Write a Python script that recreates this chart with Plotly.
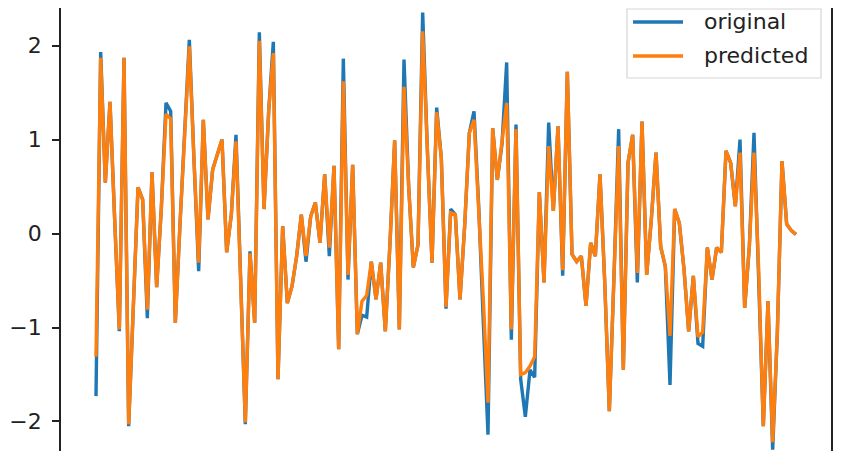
import plotly.graph_objects as go

# values, one per time step
predicted = [
    -1.31, 1.87, 0.54, 1.40, 0.15, -1.02, 1.87, -2.03, -0.78, 0.49,
    0.36, -0.81, 0.65, -0.57, 0.27, 1.27, 1.22, -0.95, 0.10, 1.00,
    1.99, 0.78, -0.31, 1.21, 0.15, 0.68, 0.85, 1.00, -0.20, 0.20,
    0.98, -0.47, -2.01, -0.21, -0.95, 2.05, 0.26, 1.30, 1.92, -1.55,
    0.08, -0.74, -0.56, -0.24, 0.20, -0.24, 0.18, 0.33, -0.10, 0.63,
    -0.15, 0.72, -1.23, 1.62, -0.44, 0.73, -1.07, -0.72, -0.66, -0.30,
    -0.70, -0.31, -1.04, -0.10, 0.99, -1.02, 1.56, 0.50, -0.36, -0.12,
    2.15, 0.90, -0.31, 1.29, 0.80, -0.78, 0.22, 0.20, -0.70, 0.08,
    1.07, 1.21, 0.30, -0.70, -1.80, 1.12, 0.57, 0.95, 1.39, -1.02,
    1.11, -1.50, -1.48, -1.41, -1.31, 0.44, -0.52, 0.93, 0.24, 1.14,
    -0.39, 1.72, -0.22, -0.30, -0.24, -0.77, -0.10, -0.24, 0.63, -0.50,
    -1.89, -0.45, 0.93, -1.45, 0.75, 1.05, -0.42, 1.19, -0.44, 0.15,
    0.86, -0.14, -0.35, -1.09, 0.26, 0.11, -0.38, -1.04, -0.45, -1.10,
    -1.05, -0.15, -0.49, -0.15, -0.20, 0.88, 0.75, 0.29, 0.86, -0.79,
    -0.14, 0.86, -0.38, -2.05, -0.72, -2.22, -1.06, 0.77, 0.10, 0.03,
    -0.01,
]

original = [
    -1.73, 1.93, 0.54, 1.40, 0.15, -1.04, 1.87, -2.05, -0.78, 0.49,
    0.36, -0.90, 0.65, -0.57, 0.27, 1.39, 1.30, -0.95, 0.10, 1.00,
    2.06, 0.78, -0.40, 1.21, 0.15, 0.68, 0.85, 1.00, -0.20, 0.20,
    1.05, -0.47, -2.03, -0.19, -0.95, 2.14, 0.26, 1.30, 2.04, -1.55,
    0.08, -0.74, -0.56, -0.24, 0.20, -0.30, 0.18, 0.33, -0.10, 0.63,
    -0.24, 0.72, -1.23, 1.86, -0.49, 0.73, -1.07, -0.87, -0.89, -0.30,
    -0.70, -0.31, -1.04, -0.10, 0.99, -1.02, 1.85, 0.50, -0.36, -0.12,
    2.35, 0.90, -0.31, 1.34, 0.80, -0.80, 0.26, 0.20, -0.70, 0.08,
    1.07, 1.30, 0.30, -0.95, -2.14, 1.12, 0.57, 0.95, 1.82, -1.13,
    1.16, -1.55, -1.95, -1.45, -1.53, 0.44, -0.52, 1.18, 0.24, 1.14,
    -0.45, 1.72, -0.22, -0.30, -0.24, -0.77, -0.10, -0.24, 0.63, -0.50,
    -1.89, -0.45, 1.11, -1.45, 0.75, 1.05, -0.52, 1.19, -0.44, 0.15,
    0.86, -0.14, -0.35, -1.61, 0.26, 0.11, -0.38, -1.04, -0.45, -1.17,
    -1.20, -0.15, -0.49, -0.15, -0.20, 0.88, 0.75, 0.29, 1.00, -0.79,
    -0.14, 1.07, -0.38, -2.05, -0.72, -2.30, -1.06, 0.77, 0.10, 0.03,
    -0.01,
]

series_names = ['original', 'predicted']
series_colors = ['#1f77b4', '#ff7f0e']

steps = list(range(len(predicted)))
y_ticks = [-2, -1, 0, 1, 2]

font = dict(family='DejaVu Sans', size=22, color='#222222')

fig = go.Figure()

for name, values, color in zip(series_names, [original, predicted], series_colors):
    fig.add_trace(go.Scatter(
        x=steps,
        y=values,
        mode='lines',
        name=name,
        showlegend=False,
        line=dict(color=color, width=3.4),
    ))

n = len(steps) - 1

fig.update_xaxes(
    range=[-0.05 * n, 1.05 * n],
    showline=False,
    showgrid=False,
    zeroline=False,
    showticklabels=False,
    ticks='',
)

# the page body adds an 8px offset, so the axes run past the bottom edge
fig.update_yaxes(
    range=[-2.399, 2.399],
    tickvals=y_ticks,
    showline=True,
    mirror=True,
    linecolor='#222222',
    linewidth=1.8,
    ticks='outside',
    ticklen=7,
    tickwidth=1.8,
    tickcolor='#222222',
    ticklabelstandoff=6,
    showgrid=False,
    zeroline=False,
    tickfont=font,
)

# matplotlib-like legend box, drawn by hand
fig.add_shape(
    type='rect',
    xref='paper', yref='paper',
    x0=0.7351, x1=0.9870, y0=0.8448, y1=0.9978,
    line=dict(color='#d5d5d5', width=1.2),
    fillcolor='rgba(255,255,255,0.8)',
    layer='above',
)

legend_rows = [0.9690, 0.8936]
for name, color, row in zip(series_names, series_colors, legend_rows):
    fig.add_shape(
        type='line',
        xref='paper', yref='paper',
        x0=0.7429, x1=0.8078, y0=row, y1=row,
        line=dict(color=color, width=3.4),
        layer='above',
    )
    fig.add_annotation(
        text=name,
        xref='paper', yref='paper',
        x=0.8320, y=row,
        xanchor='left', yanchor='middle',
        showarrow=False,
        font=font,
    )

fig.update_layout(
    width=860,
    height=451,
    margin=dict(l=53, r=37, t=0, b=0),
    paper_bgcolor='white',
    plot_bgcolor='white',
    font=font,
    showlegend=False,
)

fig.write_html('out.html')
